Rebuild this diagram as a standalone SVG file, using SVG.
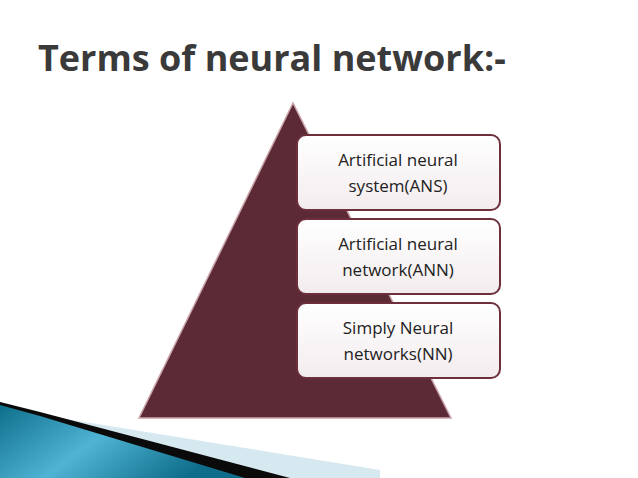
<svg xmlns="http://www.w3.org/2000/svg" width="638" height="478" viewBox="0 0 638 478">
<defs>
<linearGradient id="blue" x1="0" y1="0" x2="1" y2="0.4"><stop offset="0" stop-color="#0e6f8c"/><stop offset="0.5" stop-color="#4fb3d3"/><stop offset="1" stop-color="#0d6d8a"/></linearGradient>
<linearGradient id="box" x1="0" y1="0" x2="0" y2="1"><stop offset="0" stop-color="#ffffff"/><stop offset="1" stop-color="#f3ecee"/></linearGradient>
<style>
.b{fill:url(#box);stroke:#6e2f3c;stroke-width:2}
.t{font-family:"Open Sans","DejaVu Sans",sans-serif;font-size:17px;fill:#222;text-anchor:middle}
</style>
</defs>
<rect width="638" height="478" fill="#fff"/>
<text x="38" y="71" font-family="'Open Sans','DejaVu Sans',sans-serif" font-weight="bold" font-size="36" fill="#3a3a3a">Terms of neural network:-</text>
<polygon points="0,402 60,418 380,470 380,478 0,478" fill="#d6e9f0"/>
<polygon points="0,402 40,412 290,478 0,478" fill="#0a0a0a"/>
<polygon points="0,405 40,416 245,478 0,478" fill="url(#blue)"/>
<g id="pyramid"><polygon points="293,103 139,418 451,418" fill="#5c2a35" stroke="#c9a3aa" stroke-width="1.5"/></g>
<g id="n1"><rect class="b" x="297" y="135" width="203" height="75" rx="9"/><text class="t" x="398" y="166">Artificial neural</text><text class="t" x="398" y="192">system(ANS)</text></g>
<g id="n2"><rect class="b" x="297" y="219" width="203" height="75" rx="9"/><text class="t" x="398" y="250">Artificial neural</text><text class="t" x="398" y="276">network(ANN)</text></g>
<g id="n3"><rect class="b" x="297" y="303" width="203" height="75" rx="9"/><text class="t" x="398" y="334">Simply Neural</text><text class="t" x="398" y="360">networks(NN)</text></g>
<g id="connectors"/>
</svg>
